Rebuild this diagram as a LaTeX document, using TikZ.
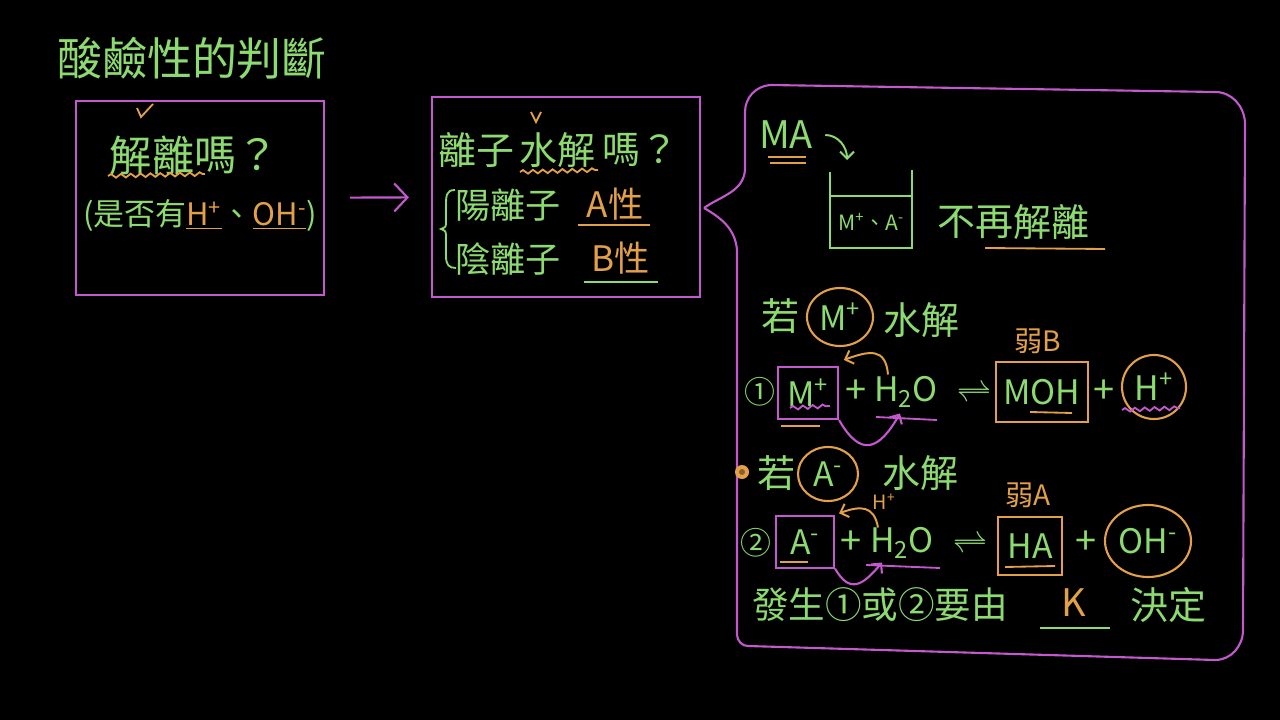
\documentclass[tikz,border=0pt]{standalone}
\usepackage{fontspec}
\setmainfont{Noto Sans CJK TC}
\usepackage{tikz}
\usetikzlibrary{shapes.geometric,positioning,arrows.meta,decorations.pathmorphing}
\usepackage{xcolor}
\definecolor{hwgreen}{RGB}{140,218,112}
\definecolor{hworange}{RGB}{226,160,72}
\definecolor{hwpink}{RGB}{196,88,206}
\tikzstyle{hw} = [text=hwgreen, inner sep=0pt, font=\fontsize{27}{29}\selectfont]
\tikzstyle{hwtitle} = [hw, font=\fontsize{32}{34}\selectfont]
\tikzstyle{hwf} = [hw, font=\fontsize{24}{26}\selectfont]
\tikzstyle{hwsmall} = [hw, text=hworange, font=\fontsize{20}{22}\selectfont]
\tikzstyle{pbox} = [rectangle, draw=hwpink, line width=1.5pt]
\tikzstyle{obox} = [rectangle, draw=hworange, line width=1.5pt]
\tikzstyle{ring} = [ellipse, draw=hworange, line width=1.5pt]
\tikzstyle{frame} = [draw=hwpink, line width=1.5pt]
\tikzstyle{line} = [draw, line width=1.5pt, color=hwpink, -{Straight Barb[length=5pt,width=10pt]}]
\tikzstyle{oarrow} = [draw, line width=1.4pt, color=hworange, -{Straight Barb[length=5pt,width=10pt]}]
\tikzstyle{garrow} = [draw, line width=1.4pt, color=hwgreen, -{Straight Barb[length=5pt,width=10pt]}]
\tikzstyle{uline} = [draw, line width=1.3pt]
\tikzstyle{wavy} = [draw, line width=1.3pt, decorate, decoration={snake, amplitude=1.3pt, segment length=7pt}]

\begin{document}
\begin{tikzpicture}[x=0.025cm, y=-0.025cm]
  \fill[black] (0,0) rectangle (1280,720);
  \useasboundingbox (0,0) rectangle (1280,720);
  %% title
  \node[hwtitle] (title) at (192,58) {酸鹼性的判斷};
  %% first box
  \node[pbox, minimum width=6.2cm, minimum height=4.85cm] (box1) at (200,198) {};
  \node[hwtitle, font=\fontsize{30}{32}\selectfont] (jieli) at (152,155) {解離};
  \node[hwtitle, font=\fontsize{30}{32}\selectfont, right=0pt of jieli] (ma1) {嗎？};
  \node[hw, font=\fontsize{22}{24}\selectfont] (has) at (200,216) {(是否有\textcolor{hworange}{\underline{H\textsuperscript{+}}}、\textcolor{hworange}{\underline{OH\textsuperscript{-}}})};
  \path[wavy, hworange] (108,176) -- (205,174);
  \draw[uline, hworange] (137,108) -- (141,117) -- (153,104);
  %% second box
  \node[pbox, minimum width=6.7cm, minimum height=5cm] (box2) at (566,197) {};
  \node[hw] (lizi) at (476,150) {離子};
  \node[hw] (shuijie) at (557,150) {水解};
  \node[hw] (ma2) at (640,150) {嗎？};
  \path[wavy, hworange] (520,172) -- (598,170);
  \draw[uline, hworange] (531,112) -- (536,122) -- (541,112);
  \draw[uline, hwgreen] (455,190) .. controls (446,190) and (446,196) .. (446,206) -- (446,221) .. controls (446,227) .. (441,229) .. controls (446,231) .. (446,238) -- (446,256) .. controls (446,265) and (449,268) .. (456,268);
  \node[hw, font=\fontsize{25}{27}\selectfont] (yang) at (508,205) {陽離子};
  \node[hw, font=\fontsize{25}{27}\selectfont, text=hworange] (Ax) at (615,204) {A性};
  \node[hw, font=\fontsize{25}{27}\selectfont] (yin) at (508,259) {陰離子};
  \node[hw, font=\fontsize{25}{27}\selectfont, text=hworange] (Bx) at (621,258) {B性};
  \draw[uline, hworange] (578,225) -- (650,225);
  \draw[uline, hwgreen] (584,282) -- (658,282);
  %% edges
  \path[line, -{Straight Barb[length=0.33cm,width=0.7cm]}, shorten <=0.62cm, shorten >=0.55cm] (box1) -- (box2);
  %% third box
  \coordinate (tip) at (704,208);
  \draw[frame] (tip) to[out=35,in=-95] (745,170) -- (745,112) to[out=90,in=185] (770,85) -- (1215,92) to[out=0,in=95] (1245,122) -- (1243,630) to[out=-90,in=0] (1215,660) -- (748,646) to[out=180,in=-85] (737,635) -- (737,250) to[out=95,in=-30] (tip);
  \node[hw] (MA) at (786,135) {MA};
  \draw[uline, hworange] (768,157) -- (806,157);
  \draw[uline, hworange] (770,163) -- (806,163);
  \node[hw, font=\fontsize{15}{17}\selectfont, minimum width=2.05cm, minimum height=1.27cm] (ions) at (871,222) {M\textsuperscript{+}、A\textsuperscript{-}};
  \draw[uline, hwgreen] ([yshift=0.62cm]ions.north west) -- (ions.south west) -- (ions.south east) -- ([yshift=0.65cm]ions.north east);
  \draw[uline, hwgreen] (ions.north west) -- (ions.north east);
  \coordinate (drop) at (847,160);
  \path[garrow] ([xshift=0.3cm]MA.east) to[out=0,in=90] (drop);
  \node[hw] (buzai) at (975,222) {不再};
  \node[hw, right=0pt of buzai] (jl) {解離};
  \draw[uline, hworange] (985,248) -- (1105,249);
  %% if M+ hydrolyses
  \node[hw] (ruo1) at (780,316) {若};
  \node[hwf, ring, minimum width=1.65cm, minimum height=1.45cm] (mp) at (840,317) {M\textsuperscript{+}};
  \node[hw] (sj1) at (921,320) {水解};
  \node[hwsmall] (ruoB) at (1038,341) {弱B};
  \node[hw, font=\fontsize{22}{24}\selectfont] (n1) at (760,392) {①};
  \node[hwf, pbox, minimum width=1.5cm, minimum height=1.3cm] (m1) at (808,393) {M\textsuperscript{+}};
  \node[hw] (plus1) at (856,392) {+};
  \node[hwf] (w1) at (906,392) {H\textsubscript{2}O};
  \node[hw] (eq1) at (974,394) {$\rightleftharpoons$};
  \node[hwf, obox, minimum width=2.3cm, minimum height=1.5cm] (moh) at (1042,392) {MOH};
  \node[hw] (plus2) at (1104,392) {+};
  \node[hwf, ring, minimum width=1.6cm, minimum height=1.6cm] (hp1) at (1154,387) {H\textsuperscript{+}};
  \draw[uline, hworange] (781,426) -- (820,426);
  \path[wavy, hwpink] (790,408) -- (830,406);
  \draw[uline, hwpink] (876,417) -- (937,420);
  \draw[uline, hworange] (1030,412) -- (1072,413);
  \path[wavy, hwpink] (1122,410) -- (1180,408);
  \path[oarrow] ([xshift=-0.45cm,yshift=0.05cm]w1.north) to[out=95,in=20, looseness=1.5] ([xshift=0.12cm,yshift=0.15cm]m1.north east);
  \path[line] (m1.south east) to[out=-60,in=-120, looseness=1.8] ([xshift=-0.15cm,yshift=-0.15cm]w1.south);
  %% if A- hydrolyses
  \fill[hworange] (742,472) circle (7);
  \fill[hworange!60!black] (742,472) circle (3);
  \node[hw] (ruo2) at (776,473) {若};
  \node[hwf, ring, minimum width=1.5cm, minimum height=1.35cm] (am) at (828,474) {A\textsuperscript{-}};
  \node[hw] (sj2) at (920,473) {水解};
  \node[hwsmall, font=\fontsize{14}{16}\selectfont] (hplus) at (884,502) {H\textsuperscript{+}};
  \node[hwsmall] (ruoA) at (1028,495) {弱A};
  \node[hw, font=\fontsize{22}{24}\selectfont] (n2) at (756,543) {②};
  \node[hwf, pbox, minimum width=1.45cm, minimum height=1.28cm] (a2) at (805,542) {A\textsuperscript{-}};
  \node[hw] (plus3) at (851,543) {+};
  \node[hwf] (w2) at (902,543) {H\textsubscript{2}O};
  \node[hw] (eq2) at (970,545) {$\rightleftharpoons$};
  \node[hwf, obox, minimum width=1.6cm, minimum height=1.45cm] (ha) at (1030,546) {HA};
  \node[hw] (plus4) at (1086,543) {+};
  \node[hwf, ring, minimum width=2.15cm, minimum height=1.8cm] (ohm) at (1148,541) {OH\textsuperscript{-}};
  \draw[uline, hworange] (780,562) -- (808,562);
  \draw[uline, hwpink] (866,565) -- (940,568);
  \draw[uline, hworange] (1005,567) -- (1055,566);
  \path[oarrow] ([xshift=-0.6cm]w2.north) to[out=100,in=20, looseness=1.4] ([xshift=0.1cm,yshift=0.05cm]a2.north east);
  \path[line] (a2.south east) to[out=-60,in=-130, looseness=1.6] ([xshift=-0.5cm,yshift=-0.1cm]w2.south);
  %% conclusion
  \node[hw, font=\fontsize{26}{28}\selectfont] (fs) at (880,605) {發生①或②要由};
  \node[hw, text=hworange] (K) at (1074,603) {K};
  \draw[uline, hwgreen] (1040,628) -- (1110,628);
  \node[hw] (jd) at (1168,605) {決定};
\end{tikzpicture}
\end{document}
